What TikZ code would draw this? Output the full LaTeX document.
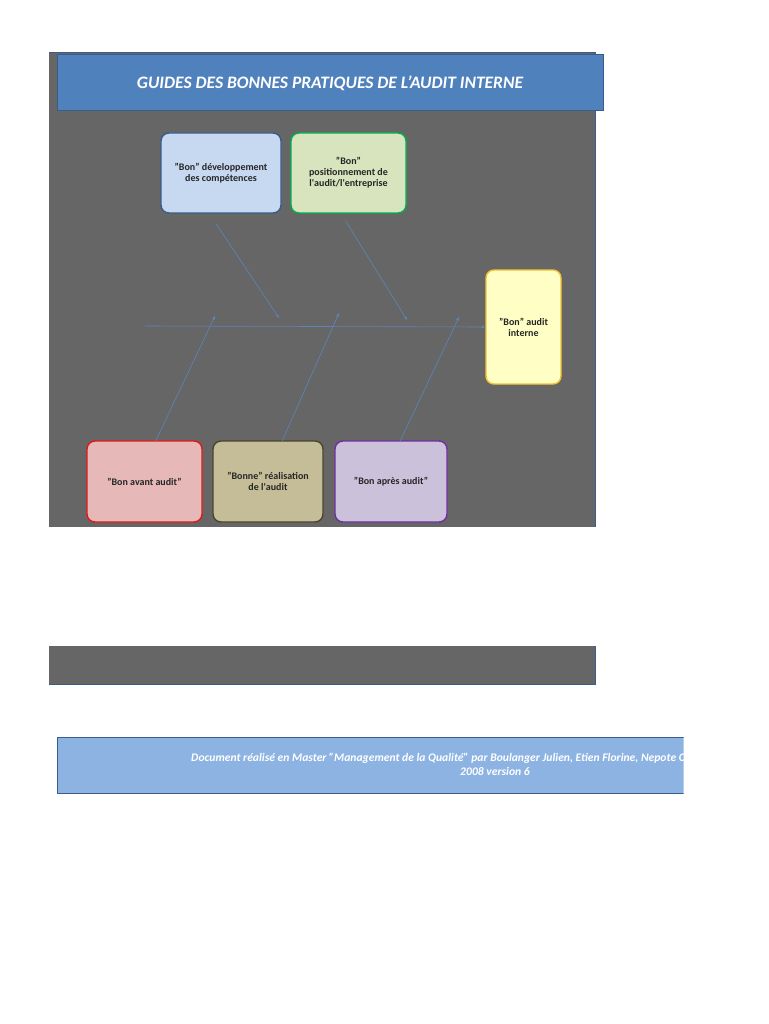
\documentclass[tikz,border=0pt]{standalone}
\usepackage{fontspec}
\setmainfont{Carlito}
\usetikzlibrary{arrows.meta}
\definecolor{panelgray}{HTML}{666666}
\definecolor{titleblue}{HTML}{4F81BD}
\definecolor{rimblue}{HTML}{385D8A}
\definecolor{footblue}{HTML}{8DB3E2}
\definecolor{bonecol}{HTML}{5B86BC}
\tikzset{
  box/.style={draw,line width=1.4pt,rounded corners=8pt,align=center,inner sep=0pt,
    text=black!85,font=\fontsize{10}{11}\selectfont\bfseries},
  bone/.style={draw=bonecol,line width=0.6pt,-{Stealth[length=4pt,width=3pt]}}
}
\begin{document}
\begin{tikzpicture}[x=1pt,y=-1pt]
\useasboundingbox (0,0) rectangle (768,1024);
% panels
\fill[panelgray] (49,52) rectangle (595,527);
\draw[rimblue,line width=0.6pt] (49,52) -- (595,52) -- (595,527);
\node[draw=rimblue,fill=titleblue,line width=1pt,minimum width=546pt,minimum height=56pt,
  text=white,font=\fontsize{17.5}{19}\selectfont\bfseries\itshape] (title) at (330,83)
  {GUIDES DES BONNES PRATIQUES DE L’AUDIT INTERNE};
% causes
\node[box,draw=rimblue,fill={rgb,255:red,198;green,217;blue,241},
  minimum width=120pt,minimum height=80pt] (dev) at (221,173) {"Bon" développement\\des compétences};
\node[box,draw={rgb,255:red,0;green,176;blue,80},fill={rgb,255:red,215;green,228;blue,189},
  minimum width=115pt,minimum height=80pt] (pos) at (348.5,173) {"Bon"\\positionnement de\\l\textquotesingle audit/l\textquotesingle entreprise};
\node[box,draw={rgb,255:red,242;green,194;blue,48},fill={rgb,255:red,255;green,255;blue,197},
  minimum width=75pt,minimum height=114pt] (cible) at (523.5,327) {"Bon" audit\\interne};
\node[box,draw={rgb,255:red,224;green,24;blue,24},fill={rgb,255:red,230;green,185;blue,184},
  minimum width=115pt,minimum height=81pt] (avant) at (144.5,481.5) {"Bon avant audit"};
\node[box,draw={rgb,255:red,74;green,69;blue,42},fill={rgb,255:red,196;green,189;blue,151},
  minimum width=110pt,minimum height=81pt] (real) at (268,481.5) {"Bonne" réalisation\\de l\textquotesingle audit};
\node[box,draw={rgb,255:red,112;green,48;blue,160},fill={rgb,255:red,204;green,193;blue,218},
  minimum width=112pt,minimum height=81pt] (apres) at (391,481.5) {"Bon après audit"};
% arete
\coordinate (queue) at (145,326);
\coordinate (c1) at (279,318);
\coordinate (c2) at (407,320);
\coordinate (c3) at (215,316);
\coordinate (c4) at (339,313);
\coordinate (c5) at (459,317);
\draw[bone] (queue) -- (cible.west);
\draw[bone] ([xshift=-5pt,yshift=-10pt]dev.south) -- (c1);
\draw[bone] ([xshift=-3pt,yshift=-7pt]pos.south) -- (c2);
\draw[bone] ([xshift=11pt,yshift=-1pt]avant.north) -- (c3);
\draw[bone] ([xshift=14pt,yshift=-1pt]real.north) -- (c4);
\draw[bone] ([xshift=9pt,yshift=-1pt]apres.north) -- (c5);
% bas de page
\node[fill=panelgray,minimum width=546pt,minimum height=38pt,inner sep=0pt] (bande) at (322,665) {};
\draw[rimblue,line width=0.6pt] (bande.south west) -- (bande.south east) -- (bande.north east);
\begin{scope}
\clip (0,700) rectangle (683.5,820);
\node[draw=rimblue,fill=footblue,line width=1pt,minimum width=640pt,minimum height=56pt,inner sep=0pt]
  (pied) at (377,765) {};
\node[anchor=west,text=white,font=\fontsize{11.6}{13}\selectfont\bfseries\itshape,inner sep=0pt] (auteurs)
  at (191,758) {Document réalisé en Master "Management de la Qualité" par Boulanger Julien, Etien Florine, Nepote C};
\node[text=white,font=\fontsize{11.6}{13}\selectfont\bfseries\itshape,inner sep=0pt] (version)
  at (495,771) {2008 version 6};
\end{scope}
\end{tikzpicture}
\end{document}
